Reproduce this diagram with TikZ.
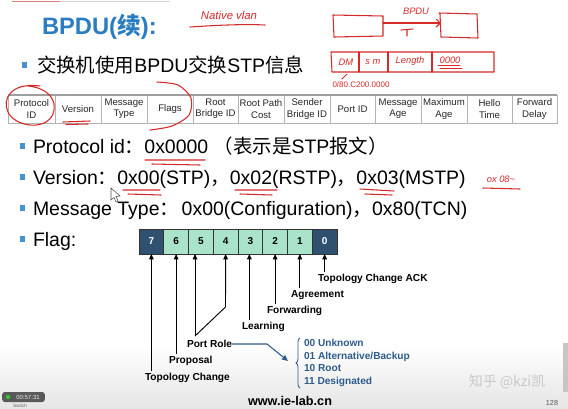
\documentclass[tikz,border=0pt]{standalone}
\usepackage{fontspec}
\setmainfont{Liberation Sans}
\newfontfamily\cjk{Noto Sans CJK SC}
\usetikzlibrary{arrows.meta,decorations.pathreplacing,calc}
\definecolor{titleblue}{HTML}{2A7DC0}
\definecolor{bulletblue}{HTML}{4A90CC}
\definecolor{bitdark}{HTML}{30506F}
\definecolor{bitlight}{HTML}{A8E3CA}
\definecolor{roleblue}{HTML}{2E5C8A}
\definecolor{pen}{HTML}{D42A2A}
\begin{document}
\begin{tikzpicture}[x=0.75pt,y=-0.75pt,
  every node/.style={inner sep=0pt, outer sep=0pt},
  bul/.style={fill=bulletblue, minimum size=3.8pt},
  bodytext/.style={anchor=base west, font=\fontsize{14.6}{16}\selectfont},
  cell/.style={draw=gray!60, line width=0.6pt, align=center, minimum height=21pt,
    font=\fontsize{7.2}{8.4}\selectfont, text=black!85},
  bitbox/.style={draw=black!80, line width=0.6pt, minimum width=18.56pt, minimum height=18.75pt,
    font=\bfseries\fontsize{7.5}{9}\selectfont},
  lab/.style={font=\bfseries\fontsize{7.6}{9}\selectfont, anchor=west},
  ptr/.style={-{Triangle[length=4pt,width=3.4pt]}, line width=0.7pt},
  hand/.style={draw=pen, line width=0.8pt, line cap=round, line join=round},
  handtext/.style={text=pen, font=\itshape\fontsize{7}{8}\selectfont},
]
\useasboundingbox (0,0) rectangle (568,408);
% background
\fill[white] (0,0) rectangle (568,408);
\shade[top color=white, bottom color=gray!20] (0,345) rectangle (568,408);
\fill[gray!45] (563,343) rectangle (568,392);
\draw[gray!35, line width=0.6pt] (12,1) -- (170,1);
\draw[pen!60, line width=0.6pt] (12,1) -- (60,1);

% title
\node[anchor=base west, text=titleblue, font=\bfseries\fontsize{17.8}{21}\selectfont] (title) at (42,34)
  {BPDU({\cjk 续}):};

% bullet 1
\node[bul] (b1) at (24.5,65) {};
\node[bodytext] (t1) at (37,72) {{\cjk 交换机使用}BPDU{\cjk 交换}STP{\cjk 信息}};

% BPDU table
\foreach \a/\b/\t [count=\i] in {8/55/{Protocol\\ID}, 55/101/{Version}, 101/147/{Message\\Type},
   147/193/{Flags}, 193/238/{Root\\Bridge ID}, 238/284/{Root Path\\Cost}, 284/330/{Sender\\Bridge ID},
   330/375/{Port ID}, 375/421/{Message\\Age}, 421/467/{Maximum\\Age}, 467/512/{Hello\\Time},
   512/557/{Forward\\Delay}}
  \node[cell, minimum width={(\b-\a)*0.75pt}] (c\i) at ({(\a+\b)/2},109) {\t};
\draw[gray!75, line width=1pt] (c1.north west) -- (c12.north east);

% bullets 2-5
\node[bul] (b2) at (22.5,146) {};
\node[bodytext] (t2) at (33,153) {Protocol id{\cjk ：}0x0000 {\cjk （表示是}STP{\cjk 报文）}};
\node[bul] (b3) at (22.5,177) {};
\node[bodytext] (t3) at (33,184) {Version{\cjk ：}0x00(STP){\cjk ，}0x02(RSTP){\cjk ，}0x03(MSTP)};
\node[bul] (b4) at (22.5,208) {};
\node[bodytext] (t4) at (33,215) {Message Type{\cjk ：}\hspace{2pt}0x00(Configuration){\cjk ，}0x80(TCN)};
\node[bul] (b5) at (22.5,239) {};
\node[bodytext] (t5) at (33,246) {Flag:};

% flag bits
\foreach \k [count=\i from 0] in {7,6,5,4,3,2,1,0}{
  \ifnum\k=7 \def\fc{bitdark}\def\tc{white}\else\ifnum\k=0 \def\fc{bitdark}\def\tc{white}\else\def\fc{bitlight}\def\tc{black}\fi\fi
  \node[bitbox, fill=\fc, text=\tc] (bit\k) at ({139+24.75*(\i+0.5)},241.5) {\k};
}

% labels
\node[lab] (l0) at (318,279) {Topology Change ACK};
\node[lab] (l1) at (291,295) {Agreement};
\node[lab] (l2) at (267,311) {Forwarding};
\node[lab] (l3) at (242,327) {Learning};
\node[lab] (l45) at (187,344) {Port Role};
\node[lab] (l6) at (169,361) {Proposal};
\node[lab] (l7) at (145,378) {Topology Change};

\draw[ptr] (l0.north -| bit0.south) ++(0,-2) -- (bit0.south);
\draw[ptr] (l1.north -| bit1.south) ++(0,-2) -- (bit1.south);
\draw[ptr] (l2.north -| bit2.south) ++(0,-2) -- (bit2.south);
\draw[ptr] ($(l3.north -| bit3.south)+(-1,-2)$) -- ($(bit3.south)+(-1,0)$);
\draw[ptr] (l6.north -| bit6.south) ++(0,-2) -- (bit6.south);
\draw[ptr] (l7.north -| bit7.south) ++(0,-2) -- (bit7.south);
\coordinate (join) at (195,336);
\coordinate (bend) at (225.5,307);
\draw[ptr] (join) -- (join |- bit5.south);
\draw[ptr] (join) -- (bend) -- (bit4.south);

% port role list
\coordinate (pr1) at (267,344);
\coordinate (pr2) at (288,361);
\draw[roleblue, line width=0.8pt, -{Triangle[length=4.5pt,width=4pt]}] (l45.east) -- (pr1) -- (pr2);
\draw[roleblue, line width=0.6pt, decorate, decoration={brace, amplitude=3pt}] (300,388) -- (300,338);
\node[anchor=west, align=left, text=roleblue, font=\bfseries\fontsize{7.6}{9.4}\selectfont] (roles) at (304,363)
  {00 Unknown\\01 Alternative/Backup\\10 Root\\11 Designated};

% footer
\node[font=\bfseries\fontsize{9.5}{11}\selectfont] (url) at (290,401) {www.ie-lab.cn};
\node[text=black!65, font=\fontsize{5.5}{6}\selectfont] (pg) at (552,403) {128};
\node[text=gray!42, font=\cjk\fontsize{10.5}{12}\selectfont] (wm) at (507,382) {知乎 @kzi凯};
\node[fill=black!65, rounded corners=2pt, minimum width=32pt, minimum height=7.5pt] (pill) at (23.5,397) {};
\fill[green!70!black!80] (8,397) circle (2.3);
\node[text=white!85!gray, font=\fontsize{4.5}{5}\selectfont] (clock) at (28,397) {00:57:31};
\node[text=black!60, font=\fontsize{3.5}{4}\selectfont] (sw) at (20,406) {Switch};

% cursor
\draw[black!70, fill=white, line width=0.4pt] (111,188) -- (111,200) -- (114,197.5) -- (116,202) -- (118,201) -- (116,196.5) -- (120,196) -- cycle;

% handwritten annotations
\node[handtext, font=\itshape\fontsize{8.5}{9}\selectfont] (nv) at (229,15) {Native vlan};
\draw[hand] (190,27) .. controls (220,25) and (245,24) .. (265,25);
\draw[hand] (333,15) -- (383,16) -- (383,36) -- (334,37) -- cycle;
\coordinate (ar1) at (383,23);
\coordinate (ar2) at (441,23);
\draw[hand, -{Straight Barb[length=3pt]}] (ar1) -- (ar2);
\node[handtext] (bp) at (416,11) {BPDU};
\draw[hand] (401,30) -- (413,29) (407,29.5) -- (407,36);
\draw[hand] (439,13) -- (477,14) -- (478,38) -- (441,37) -- (440,14);
\draw[hand] (331,52) -- (494,52) -- (494,72) -- (332,72) -- cycle;
\draw[hand] (359,52) -- (359,72) (388,52) -- (388,72) (432,52) -- (432,72);
\node[handtext] (dm) at (346,62) {DM};
\node[handtext] (sm) at (373,62) {s m};
\node[handtext] (len) at (410,61) {Length};
\node[handtext] (zz) at (450,60) {0000};
\draw[hand, line width=0.6pt] (438,65) -- (460,65) (440,68) -- (462,68);
\draw[hand, line width=0.6pt] (347,74) -- (342,79);
\node[handtext, font=\fontsize{6}{7}\selectfont] (mac) at (361,85) {0/80.C200.0000};
\draw[hand] (40,86) .. controls (10,82) and (2,100) .. (8,112)
   .. controls (14,126) and (45,132) .. (53,114)
   .. controls (58,100) and (48,88) .. (28,86);
\draw[hand] plot[smooth] coordinates {(157,82) (178,85) (191,98) (189,115) (172,126) (150,130)};
\draw[hand] (63,122) -- (90,121) (66,124.5) -- (88,124);
\draw[hand] (145,160) -- (205,160) (152,164) -- (200,165);
\draw[hand] (123,190) -- (160,190) (128,194) -- (161,195);
\draw[hand] (235,190) -- (277,190) (240,194) -- (272,195);
\draw[hand] (360,189) -- (394,191) (365,194) -- (392,195);
\node[handtext] (ox) at (501,179) {ox 08\textasciitilde};
\draw[hand] (483,188) -- (520,189);
\end{tikzpicture}
\end{document}
